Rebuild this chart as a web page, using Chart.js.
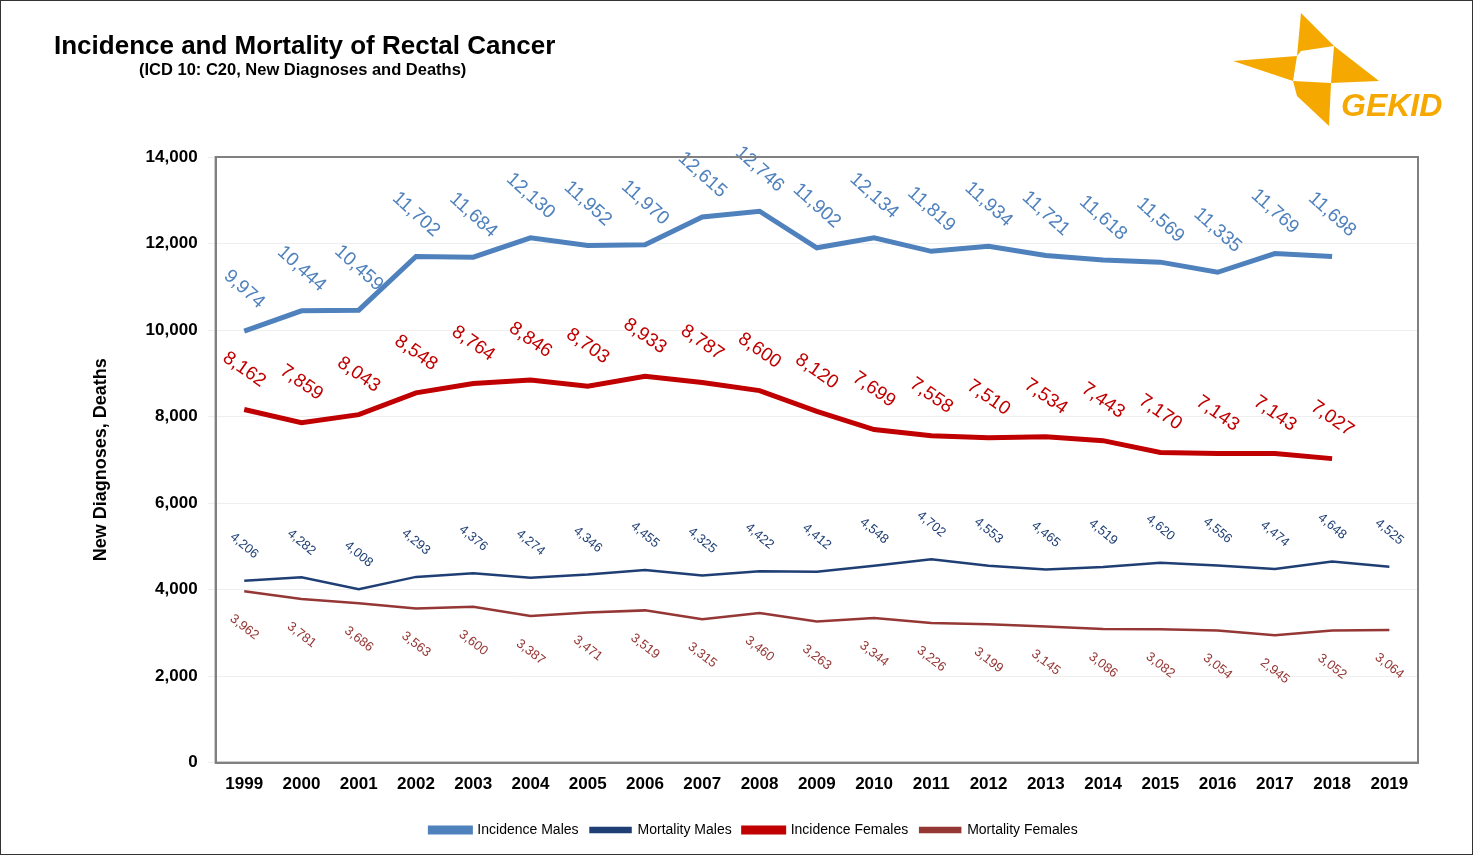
<!DOCTYPE html>
<html><head><meta charset="utf-8">
<script src="https://cdn.jsdelivr.net/npm/chart.js"></script>
<style>
html,body{margin:0;padding:0;background:#fff;}
#wrap{position:absolute;left:0;top:0;width:1471px;height:853px;border:1px solid #333;}
canvas{position:absolute;left:0;top:0;}
</style></head><body>
<div id="wrap"><canvas id="c" width="1471" height="853"></canvas></div>
<script>
const years = ["1999","2000","2001","2002","2003","2004","2005","2006","2007","2008","2009","2010","2011","2012","2013","2014","2015","2016","2017","2018","2019"];
const incidenceMales = [9974,10444,10459,11702,11684,12130,11952,11970,12615,12746,11902,12134,11819,11934,11721,11618,11569,11335,11769,11698,null];
const mortalityMales = [4206,4282,4008,4293,4376,4274,4346,4455,4325,4422,4412,4548,4702,4553,4465,4519,4620,4556,4474,4648,4525];
const incidenceFemales = [8162,7859,8043,8548,8764,8846,8703,8933,8787,8600,8120,7699,7558,7510,7534,7443,7170,7143,7143,7027,null];
const mortalityFemales = [3962,3781,3686,3563,3600,3387,3471,3519,3315,3460,3263,3344,3226,3199,3145,3086,3082,3054,2945,3052,3064];

const labelCfg = [
 {dy:-42, rot:42, font:'19px "Liberation Sans"', color:'#4f81bd'},
 {dy:-35, rot:40, font:'13px "Liberation Sans"', color:'#1f3f74'},
 {dy:-40, rot:35, font:'19px "Liberation Sans"', color:'#c00000'},
 {dy:36, rot:38, font:'13px "Liberation Sans"', color:'#953735'}
];
const labelsPlugin = {
 id:'lbl',
 afterDatasetsDraw(chart){
  const ctx=chart.ctx;
  chart.data.datasets.forEach((ds,i)=>{
   const meta=chart.getDatasetMeta(i), c=labelCfg[i];
   meta.data.forEach((pt,j)=>{
    const v=ds.data[j]; if(v==null) return;
    ctx.save();
    ctx.translate(pt.x, pt.y+c.dy);
    ctx.rotate(c.rot*Math.PI/180);
    ctx.font=c.font; ctx.fillStyle=c.color; ctx.textAlign='center'; ctx.textBaseline='middle';
    ctx.fillText(v.toLocaleString('en-US'),0,0);
    ctx.restore();
   });
  });
 }
};
const deco = {
 id:'deco',
 afterDraw(chart){
  const ctx=chart.ctx;
  ctx.save();
  ctx.fillStyle='#000'; ctx.font='bold 26px "Liberation Sans"'; ctx.textAlign='left'; ctx.textBaseline='alphabetic';
  ctx.fillText('Incidence and Mortality of Rectal Cancer',53,53);
  ctx.font='bold 16.5px "Liberation Sans"';
  ctx.fillText('(ICD 10: C20, New Diagnoses and Deaths)',138,74);
  ctx.fillStyle='#f5a800';
  const poly=(p)=>{ctx.beginPath();ctx.moveTo(p[0][0],p[0][1]);for(let k=1;k<p.length;k++)ctx.lineTo(p[k][0],p[k][1]);ctx.closePath();ctx.fill();};
  poly([[1300,12],[1333,45],[1300,50],[1296,55]]);
  poly([[1232,60],[1296,55],[1292,80]]);
  poly([[1333,45],[1378,80],[1330,82]]);
  poly([[1292,80],[1330,82],[1328,125],[1296,95]]);
  ctx.font='bold italic 32px "Liberation Sans"'; ctx.fillText('GEKID',1340,115);
  ctx.restore();
 }
};
new Chart(document.getElementById('c'),{
 type:'line',
 data:{labels:years,datasets:[
  {label:'Incidence Males',data:incidenceMales,borderColor:'#4f81bd',backgroundColor:'#4f81bd',borderWidth:5,pointRadius:0,tension:0},
  {label:'Mortality Males',data:mortalityMales,borderColor:'#1f3f74',backgroundColor:'#1f3f74',borderWidth:2.5,pointRadius:0},
  {label:'Incidence Females',data:incidenceFemales,borderColor:'#c00000',backgroundColor:'#c00000',borderWidth:5,pointRadius:0},
  {label:'Mortality Females',data:mortalityFemales,borderColor:'#953735',backgroundColor:'#953735',borderWidth:2.5,pointRadius:0}
 ]},
 options:{
  responsive:false,animation:false,
  layout:{padding:{left:89,right:54,top:156,bottom:7}},
  plugins:{
   legend:{position:'bottom',labels:{boxWidth:40,boxHeight:4,font:{family:'"Liberation Sans"',size:14},color:'#000',padding:12}},
   tooltip:{enabled:false}
  },
  scales:{
   x:{offset:true,grid:{display:false},border:{color:'#808080',width:2},afterFit:s=>{s.height+=12;},
      ticks:{font:{family:'"Liberation Sans"',size:17,weight:'bold'},color:'#000',maxRotation:0,padding:4}},
   y:{min:0,max:14000,ticks:{stepSize:2000,font:{family:'"Liberation Sans"',size:17,weight:'bold'},color:'#000',padding:10,callback:v=>v.toLocaleString('en-US')},
      grid:{color:'#eeeeee'},border:{color:'#808080',width:2},
      title:{display:true,text:'New Diagnoses, Deaths',font:{family:'"Liberation Sans"',size:18,weight:'bold'},color:'#000',padding:{top:0,bottom:24}}}
  }
 },
 plugins:[labelsPlugin,deco,{id:'frame',afterDraw(ch){const a=ch.chartArea,ctx=ch.ctx;ctx.save();ctx.strokeStyle='#808080';ctx.lineWidth=2;ctx.strokeRect(a.left,a.top,a.right-a.left,a.bottom-a.top);ctx.restore();}}]
});
</script></body></html>
